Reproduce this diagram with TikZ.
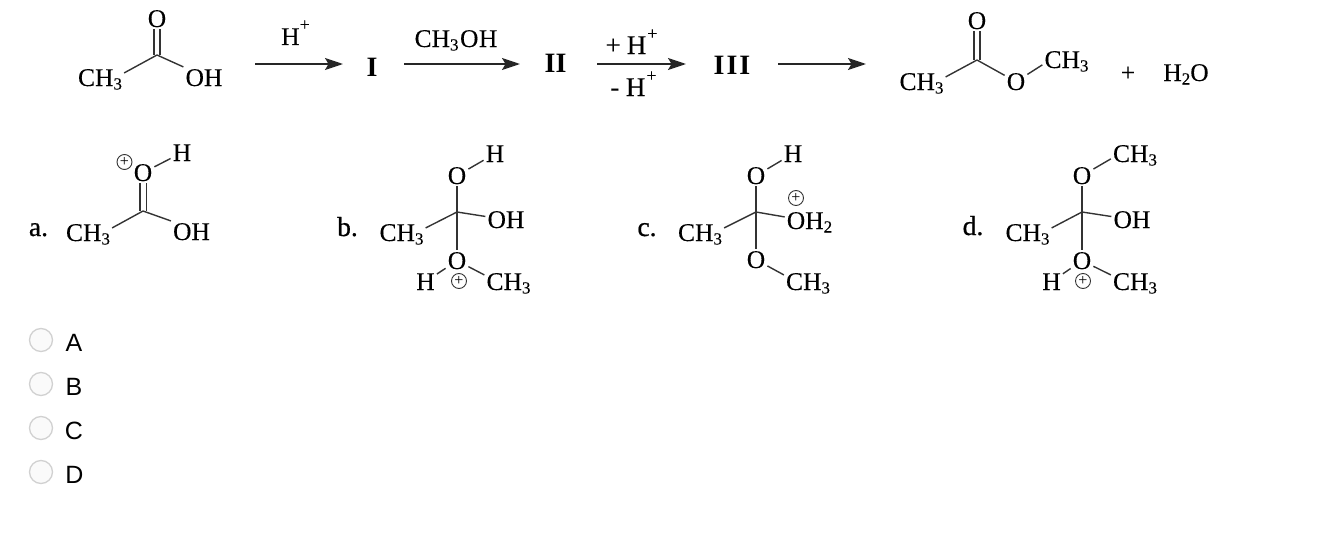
\documentclass[tikz,border=0pt]{standalone}
\usepackage{fontspec}
\setmainfont{Liberation Serif}
\newfontfamily\optfont{Liberation Sans}
\newfontfamily\chemfont[FakeBold=0.2]{Liberation Serif}
\newfontfamily\labelfont[FakeBold=0.7]{Liberation Serif}
\usetikzlibrary{arrows.meta}
\newcommand{\subs}[1]{\raisebox{-3.5pt}{\fontsize{17}{17}\selectfont #1}}
\newcommand{\sups}[1]{\raisebox{14.5pt}{\fontsize{18}{18}\selectfont #1}}
\newcommand{\CHthree}{CH\subs{3}}
\tikzset{
  atom/.style={anchor=base,inner sep=2pt,font=\fontsize{25.5}{25.5}\chemfont},
  biglabel/.style={anchor=base,inner sep=2pt,font=\fontsize{27}{27}\chemfont},
  letter/.style={anchor=base,inner sep=0pt,font=\fontsize{27.5}{27.5}\labelfont},
  roman/.style={anchor=base,inner sep=0pt,font=\fontsize{28}{28}\selectfont\bfseries},
  bond/.style={draw=black!80,line width=1.4pt},
  rxn/.style={draw=black!85,line width=1.8pt,-{Stealth[length=18pt,width=12pt,inset=3.5pt]}},
  charge/.style={circle,draw=black!80,line width=.9pt,inner sep=0pt,minimum size=15pt,font=\fontsize{16}{16}\selectfont},
  radio/.style={circle,draw=black!18,line width=1.3pt,fill=black!2,minimum size=23pt,inner sep=0pt},
  optlabel/.style={anchor=base,inner sep=0pt,font=\fontsize{25}{25}\optfont},
}
\begin{document}
\begin{tikzpicture}[x=1pt,y=-1pt]
\useasboundingbox (0,0) rectangle (1342,546);
% acetic acid
\coordinate (c0) at (157,55);
\node[atom] (o0) at (157,27) {O};
\node[atom] (me0) at (100,86) {\CHthree};
\node[atom] (oh0) at (204,86) {OH};
\draw[bond] ([xshift=-3]c0) -- ([xshift=-3]o0.south);
\draw[bond] ([xshift=3]c0) -- ([xshift=3]o0.south);
\draw[bond] (c0) -- ([yshift=-6]me0.north east);
\draw[bond] (c0) -- (oh0.north west);
% scheme
\node[atom] (hp) at (295.5,45) {H\sups{+}};
\coordinate (a1s) at (255,64); \coordinate (a1e) at (343,64);
\draw[rxn] (a1s) -- (a1e);
\node[roman] (i1) at (372,76) {I};
\node[atom] (meoh) at (456,47) {CH\subs{3}\kern1.5pt O\kern.5pt H};
\coordinate (a2s) at (404,64); \coordinate (a2e) at (520,64);
\draw[rxn] (a2s) -- (a2e);
\node[roman] (i2) at (555.5,72) {II};
\node[biglabel] (ph) at (631.5,54) {+\kern6pt H\kern1pt\sups{+}};
\coordinate (a3s) at (597,64); \coordinate (a3e) at (686,64);
\draw[rxn] (a3s) -- (a3e);
\node[biglabel] (mh) at (633.5,96) {-\kern6.5pt H\kern1pt\sups{+}};
\node[roman] (i3) at (732,74.5) {I\kern2pt I\kern2pt I};
\coordinate (a4s) at (778,64); \coordinate (a4e) at (866,64);
\draw[rxn] (a4s) -- (a4e);
% ester
\coordinate (c5) at (977,60);
\node[atom] (o5) at (977,29) {O};
\node[atom] (me5) at (921.5,90) {\CHthree};
\node[atom] (ox5) at (1016,90) {O};
\node[atom] (me5b) at (1066.5,68) {\CHthree};
\draw[bond] ([xshift=-3]c5) -- ([xshift=-3]o5.south);
\draw[bond] ([xshift=3]c5) -- ([xshift=3]o5.south);
\draw[bond] (c5) -- ([yshift=-6]me5.north east);
\draw[bond] (c5) -- (ox5);
\draw[bond] (ox5) -- ([yshift=9]me5b.south west);
\node[atom] (pl) at (1128,81) {+};
\node[atom] (wat) at (1186,81) {H\subs{2}O};
% a
\node[letter] (la) at (38.5,236) {a.};
\coordinate (ca) at (143,211);
\node[atom] (oa) at (143,181) {O};
\node[atom] (ha) at (182,161) {H};
\node[charge] (pa) at (124.5,162) {+};
\node[atom] (mea) at (88,241) {\CHthree};
\node[atom] (oha) at (191.5,240) {OH};
\draw[bond] ([xshift=-3.2]ca) -- ([xshift=-3.2]oa.south);
\draw[bond] ([xshift=3.2]ca) -- ([xshift=3.2]oa.south);
\draw[bond] (ca) -- ([yshift=-6]mea.north east);
\draw[bond] (ca) -- (oha.north west);
\draw[bond] (oa) -- (ha);
% b
\node[letter] (lb) at (347.5,236) {b.};
\coordinate (cb) at (457,212);
\node[atom] (obt) at (457,184) {O};
\node[atom] (hb) at (495,162) {H};
\node[atom] (ohb) at (506,228) {OH};
\node[atom] (meb) at (401.5,241) {\CHthree};
\node[atom] (obb) at (457,269) {O};
\node[atom] (hbb) at (425.5,290) {H};
\node[charge] (pb) at (459,281) {+};
\node[atom] (mebb) at (508.5,290) {\CHthree};
\draw[bond] (cb) -- (obt);
\draw[bond] (cb) -- (obb);
\draw[bond] (cb) -- ([yshift=-6]meb.north east);
\draw[bond] (cb) -- (ohb);
\draw[bond] (obt) -- (hb);
\draw[bond] (obb) -- (hbb);
\draw[bond] (obb) -- ([yshift=-4]mebb.north west);
% c
\node[letter] (lc) at (647,236) {c.};
\coordinate (cc) at (756,212);
\node[atom] (oct) at (756,184) {O};
\node[atom] (hc) at (793,162) {H};
\node[atom] (ohc) at (809.5,229) {OH\subs{2}};
\node[charge] (pc) at (796,198) {+};
\node[atom] (mec) at (700,241) {\CHthree};
\node[atom] (ocb) at (756,268) {O};
\node[atom] (mecb) at (808,290) {\CHthree};
\draw[bond] (cc) -- (oct);
\draw[bond] (cc) -- (ocb);
\draw[bond] (cc) -- ([yshift=-6]mec.north east);
\draw[bond] (cc) -- ([yshift=-7]ohc.north west);
\draw[bond] (oct) -- (hc);
\draw[bond] (ocb) -- ([yshift=-4]mecb.north west);
% d
\node[letter] (ld) at (973,235) {d.};
\coordinate (cd) at (1082,212);
\node[atom] (odt) at (1082,184) {O};
\node[atom] (medt) at (1135,162) {\CHthree};
\node[atom] (ohd) at (1132,228) {OH};
\node[atom] (med) at (1027.5,241) {\CHthree};
\node[atom] (odb) at (1082,269) {O};
\node[atom] (hdb) at (1051.5,290) {H};
\node[charge] (pd) at (1083,281) {+};
\node[atom] (medb) at (1135,290) {\CHthree};
\draw[bond] (cd) -- (odt);
\draw[bond] (cd) -- (odb);
\draw[bond] (cd) -- ([yshift=-6]med.north east);
\draw[bond] (cd) -- (ohd);
\draw[bond] (odt) -- ([yshift=9]medt.south west);
\draw[bond] (odb) -- (hdb);
\draw[bond] (odb) -- ([yshift=-4]medb.north west);
% options
\node[radio] (ra) at (41,340) {}; \node[optlabel] (ta) at (74,351) {A};
\node[radio] (rb) at (41,384) {}; \node[optlabel] (tb) at (74,395) {B};
\node[radio] (rc) at (41,428) {}; \node[optlabel] (tc) at (74,439) {C};
\node[radio] (rd) at (41,472) {}; \node[optlabel] (td) at (74.5,483) {D};
\end{tikzpicture}
\end{document}
